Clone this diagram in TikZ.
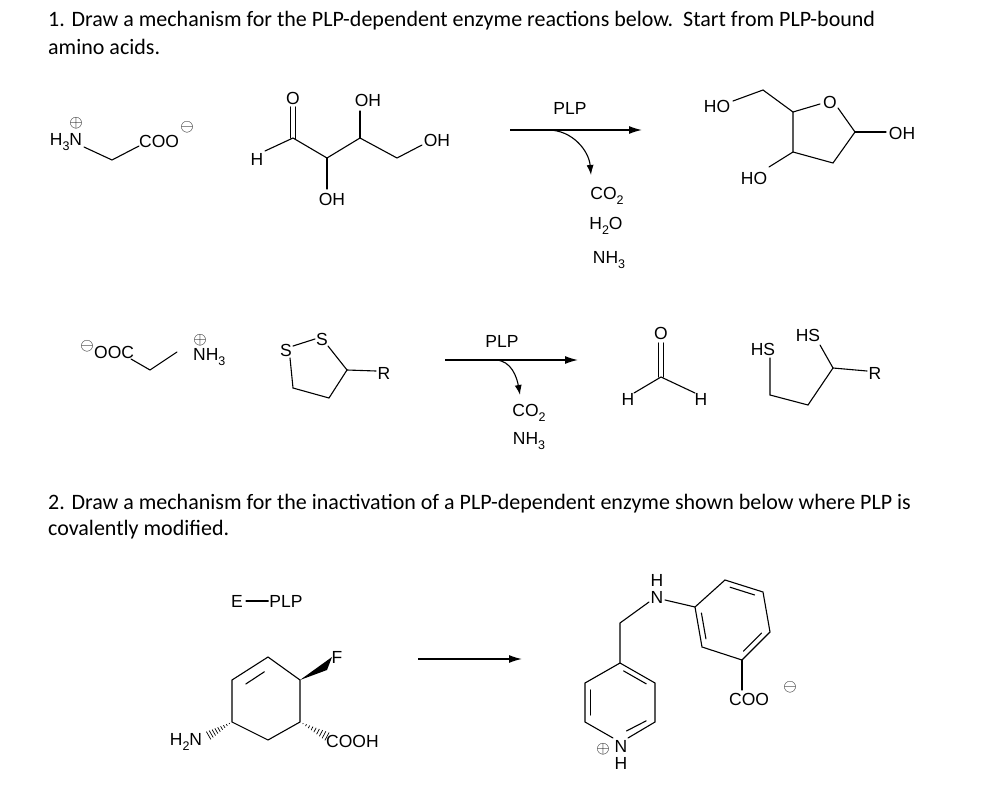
\documentclass[tikz,border=0pt]{standalone}
\usepackage{fontspec}
\setmainfont{Liberation Sans}
\newfontfamily\headfont{Carlito}
\usetikzlibrary{calc,arrows.meta}
\newcommand{\chsub}[1]{\raisebox{-4.5pt}{\fontsize{12.5}{12.5}\selectfont #1}}
\newcommand{\pl}{\fontsize{17}{17}\selectfont$\oplus$}
\newcommand{\mi}{\fontsize{17}{17}\selectfont$\ominus$}
\begin{document}
\begin{tikzpicture}[x=1pt,y=-1pt,
  bond/.style={line width=1.1pt,line cap=round},
  lbl/.style={inner sep=0pt,font=\fontsize{17.5}{17.5}\selectfont},
  head/.style={inner sep=0pt,anchor=west,font=\headfont\fontsize{22}{22}\selectfont},
  rxn/.style={line width=1.4pt,-{Latex[length=13pt,width=8pt]}},
  curv/.style={line width=1.1pt,-{Latex[length=10pt,width=7pt]}}]
\useasboundingbox (0,0) rectangle (988,800);
\fill[white] (0,0) rectangle (988,800);
% headings
\node[head] (h1) at (48,21) {1. Draw a mechanism for the PLP-dependent enzyme reactions below.\ \ Start from PLP-bound};
\node[head] (h1b) at (48,47) {amino acids.};
\node[head] (h2) at (48,504) {2. Draw a mechanism for the inactivation of a PLP-dependent enzyme shown below where PLP is};
\node[head] (h2b) at (48,530) {covalently modified.};

% glycine 1
\node[lbl] (n1) at (66,142) {H\chsub{3}N};
\node[lbl] (p1) at (76,123) {\pl};
\coordinate (g1) at (112,160);
\node[lbl,anchor=west] (c1) at (139,141) {COO};
\node[lbl] (m1) at (187,127) {\mi};
\draw[bond] (84,147) -- (g1) -- (139,146);

% sugar
\node[lbl] (hs) at (257,159) {H};
\coordinate (s1) at (293,138); \coordinate (s2) at (327,158);
\coordinate (s3) at (360,138); \coordinate (s4) at (397,158);
\node[lbl] (os) at (293,98) {O};
\node[lbl] (oh2) at (332,199) {OH};
\node[lbl] (oh3) at (368,100) {OH};
\node[lbl] (oh4) at (437,140) {OH};
\draw[bond] (265,151) -- (s1) -- (s2) -- (s3) -- (s4) -- (422,145);
\draw[bond] (290.5,138) -- (290.5,107) (295.5,139) -- (295.5,107);
\draw[bond] (s2) -- (327,189);
\draw[bond] (s3) -- (360,111);

% arrow 1
\coordinate (a1s) at (510,130); \coordinate (a1e) at (642,130);
\draw[rxn] (a1s) -- (a1e);
\node[lbl] (plp1) at (570,108) {PLP};
\draw[curv] (548,130) to[out=0,in=95] (591,175);
\node[lbl] (co2a) at (607,196) {CO\chsub{2}};
\node[lbl] (h2oa) at (606,226) {H\chsub{2}O};
\node[lbl] (nh3a) at (609,260) {NH\chsub{3}};

% furanose
\node[lbl] (ho1) at (717,106) {HO};
\coordinate (f0) at (763,90); \coordinate (f4) at (793,112);
\node[lbl] (fo) at (830,102) {O};
\coordinate (f1) at (855,132); \coordinate (f2) at (833,163); \coordinate (f3) at (793,152);
\node[lbl] (ho2) at (902,133) {OH};
\node[lbl] (ho3) at (754,178) {HO};
\draw[bond] (733,101) -- (f0) -- (f4) -- (820,104);
\draw[bond] (838,108) -- (f1) -- (f2) -- (f3) -- (f4);
\draw[bond] (f1) -- (886,132);
\draw[bond] (f3) -- (769,167);

% glycine 2
\node[lbl] (m2) at (87,346) {\mi};
\node[lbl,anchor=west] (c2) at (94,352) {OOC};
\coordinate (g2) at (150,370);
\node[lbl] (p2) at (200,340) {\pl};
\node[lbl,anchor=west] (n2) at (193,357) {NH\chsub{3}};
\draw[bond] (131,359) -- (g2) -- (177,352);

% dithiolane
\node[lbl] (sa) at (286,350) {S};
\node[lbl] (sb) at (322,339) {S};
\coordinate (d3) at (347,370); \coordinate (d4) at (329,398); \coordinate (d5) at (293,388);
\node[lbl] (r1) at (384,373) {R};
\draw[bond] (293,346) -- (315,339);
\draw[bond] (328,346) -- (d3) -- (d4) -- (d5) -- (290,358);
\draw[bond] (d3) -- (376,371);

% arrow 2
\coordinate (a2s) at (445,360); \coordinate (a2e) at (578,360);
\draw[rxn] (a2s) -- (a2e);
\node[lbl] (plp2) at (502,341) {PLP};
\draw[curv] (495,360) to[out=0,in=100] (520,395);
\node[lbl] (co2b) at (529,413) {CO\chsub{2}};
\node[lbl] (nh3b) at (529,441) {NH\chsub{3}};

% formaldehyde
\node[lbl] (fo2) at (661,333) {O};
\coordinate (fc) at (661,377);
\node[lbl] (fh1) at (628,399) {H};
\node[lbl] (fh2) at (701,399) {H};
\draw[bond] (658.5,343) -- (658.5,377) (663.5,343) -- (663.5,377);
\draw[bond] (634,393) -- (fc) -- (695,393);

% dithiol
\node[lbl] (hsa) at (763,349) {HS};
\node[lbl] (hsb) at (808,335) {HS};
\coordinate (t1) at (770,395); \coordinate (t2) at (808,405); \coordinate (t3) at (833,368);
\node[lbl] (r2) at (875,373) {R};
\draw[bond] (770,358) -- (t1) -- (t2) -- (t3) -- (820,345);
\draw[bond] (t3) -- (867,371);

% part 2
\node[lbl] (e) at (237,601) {E};
\node[lbl] (plp3) at (286,601) {PLP};
\draw[bond] ($(e.east)+(3,0)$) -- ($(plp3.west)+(-1,0)$);

\coordinate (x1) at (268,657); \coordinate (x2) at (300,680);
\coordinate (x3) at (300,722); \coordinate (x4) at (268,740);
\coordinate (x5) at (232,722); \coordinate (x6) at (232,680);
\draw[bond] (x1) -- (x2) -- (x3) -- (x4) -- (x5) -- (x6) -- cycle;
\draw[bond] ($(x6)!0.12!(x1)!0.15!(x3)$) -- ($(x1)!0.12!(x6)!0.15!(x4)$);
\node[lbl] (fl) at (337,657) {F};
\fill (x2) -- (332,657) -- (327,670) -- cycle;
\node[lbl,anchor=west] (cooh) at (326,741) {COOH};
\coordinate (hc) at (330,738); \coordinate (hn) at (206,737);
\foreach \t in {0.1,0.2,...,0.95}{
  \draw[line width=0.7pt] ($(x3)!\t!(hc)!\t*5pt!90:(hc)$) -- ($(x3)!\t!(hc)!\t*5pt!-90:(hc)$);}
\node[lbl] (h2n) at (186,742) {H\chsub{2}N};
\foreach \t in {0.1,0.2,...,0.95}{
  \draw[line width=0.7pt] ($(x5)!\t!(hn)!\t*5pt!90:(hn)$) -- ($(x5)!\t!(hn)!\t*5pt!-90:(hn)$);}

% arrow 3
\coordinate (a3s) at (418,659); \coordinate (a3e) at (522,659);
\draw[rxn] (a3s) -- (a3e);

% product
\node[lbl] (nh) at (657,597) {N};
\node[lbl] (nhh) at (657,580) {H};
\coordinate (ch2) at (620,623);
\coordinate (y1) at (620,663); \coordinate (y2) at (655,683); \coordinate (y3) at (655,722);
\coordinate (y4) at (620,740); \coordinate (y5) at (585,722); \coordinate (y6) at (585,683);
\coordinate (yc) at (620,702);
\node[lbl] (pn) at (621,746) {N};
\node[lbl] (pnh) at (621,763) {H};
\node[lbl] (pp) at (603,749) {\pl};
\draw[bond] (649,602) -- (ch2) -- (y1) -- (y2) -- (y3) -- (628,738);
\draw[bond] (613,738) -- (y5) -- (y6) -- (y1);
\draw[bond] ($(y1)!0.12!(y2)!0.15!(yc)$) -- ($(y2)!0.12!(y1)!0.15!(yc)$);
\draw[bond] ($(y5)!0.12!(y6)!0.15!(yc)$) -- ($(y6)!0.12!(y5)!0.15!(yc)$);
\draw[bond] ($(y3)!0.12!(y4)!0.15!(yc)$) -- ($(y4)!0.22!(y3)!0.15!(yc)$);
\coordinate (q1) at (695,607); \coordinate (q2) at (725,580); \coordinate (q3) at (763,592);
\coordinate (q4) at (770,632); \coordinate (q5) at (742,660); \coordinate (q6) at (702,647);
\coordinate (qc) at (733,620);
\draw[bond] (665,600) -- (q1);
\draw[bond] (q1) -- (q2) -- (q3) -- (q4) -- (q5) -- (q6) -- cycle;
\draw[bond] ($(q2)!0.12!(q3)!0.15!(qc)$) -- ($(q3)!0.12!(q2)!0.15!(qc)$);
\draw[bond] ($(q4)!0.12!(q5)!0.15!(qc)$) -- ($(q5)!0.12!(q4)!0.15!(qc)$);
\draw[bond] ($(q6)!0.12!(q1)!0.15!(qc)$) -- ($(q1)!0.12!(q6)!0.15!(qc)$);
\draw[bond] (q5) -- (742,690);
\node[lbl,anchor=west] (coo3) at (729,699) {COO};
\node[lbl] (m3) at (790,687) {\mi};
\end{tikzpicture}
\end{document}
